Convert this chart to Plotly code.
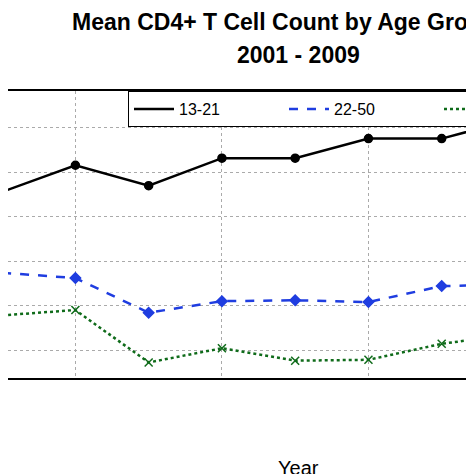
import plotly.graph_objects as go

years = [2001, 2002, 2003, 2004, 2005, 2006, 2007, 2008, 2009]
age_13_21 = [478, 508, 485, 516, 516, 538, 538, 560, 565]
age_22_50 = [387, 381, 342, 355, 356, 354, 372, 373, 375]
age_over50 = [339, 345, 286, 302, 288, 289, 307, 318, 320]
names = ["13-21", "22-50", ">50"]

series = [age_13_21, age_22_50, age_over50]
colors = ["black", "#1f3de0", "#0f6b1a"]
dashes = ["solid", "dash", "dot"]
symbols = ["circle", "diamond", "x-thin"]

fig = go.Figure()
for s, c, d, m in zip(series, colors, dashes, symbols):
    fig.add_trace(go.Scatter(x=years, y=s, mode="lines+markers", showlegend=False,
                             line=dict(color=c, dash=d, width=2.5),
                             marker=dict(symbol=m, size=8, color=c, line=dict(color=c, width=1.5))))
for n, c, d in zip(names, colors, dashes):
    fig.add_trace(go.Scatter(x=[None], y=[None], mode="lines", name=n,
                             line=dict(color=c, dash=d, width=2.5)))

fig.update_layout(
    width=474, height=474, margin=dict(l=0, r=0, t=83, b=104, autoexpand=False),
    paper_bgcolor="white", plot_bgcolor="white",
    font=dict(family="Liberation Sans, Arial", color="black"),
    showlegend=True,
    legend=dict(orientation="h", x=120/474, y=1, xanchor="left", yanchor="top",
                bordercolor="black", borderwidth=1, bgcolor="white",
                font=dict(size=16), entrywidth=100, itemwidth=40),
    xaxis=dict(range=[2001.08, 2007.55], tick0=2002, dtick=2, showticklabels=False,
               showgrid=True, gridcolor="#aaaaaa", griddash="dot", zeroline=False,
               showline=True, mirror=True, linecolor="black", linewidth=1.5, ticks=""),
    yaxis=dict(range=[268.5, 591.6], tick0=300, dtick=50, showticklabels=False,
               showgrid=True, gridcolor="#aaaaaa", griddash="dot", zeroline=False,
               showline=False, ticks=""),
    annotations=[
        dict(text="<b>Mean CD4+ T Cell Count by Age Group</b>", xref="paper", yref="paper",
             x=62/474, y=1 + (83 - 14)/287, xanchor="left", yanchor="middle",
             showarrow=False, font=dict(size=23)),
        dict(text="<b>2001 - 2009</b>", xref="paper", yref="paper",
             x=290/474, y=1 + (83 - 47)/287, xanchor="center", yanchor="middle",
             showarrow=False, font=dict(size=23)),
        dict(text="Year", xref="paper", yref="paper",
             x=290/474, y=-(460 - 370)/287, xanchor="center", yanchor="middle",
             showarrow=False, font=dict(size=20)),
    ],
)
fig.write_html("out.html")
